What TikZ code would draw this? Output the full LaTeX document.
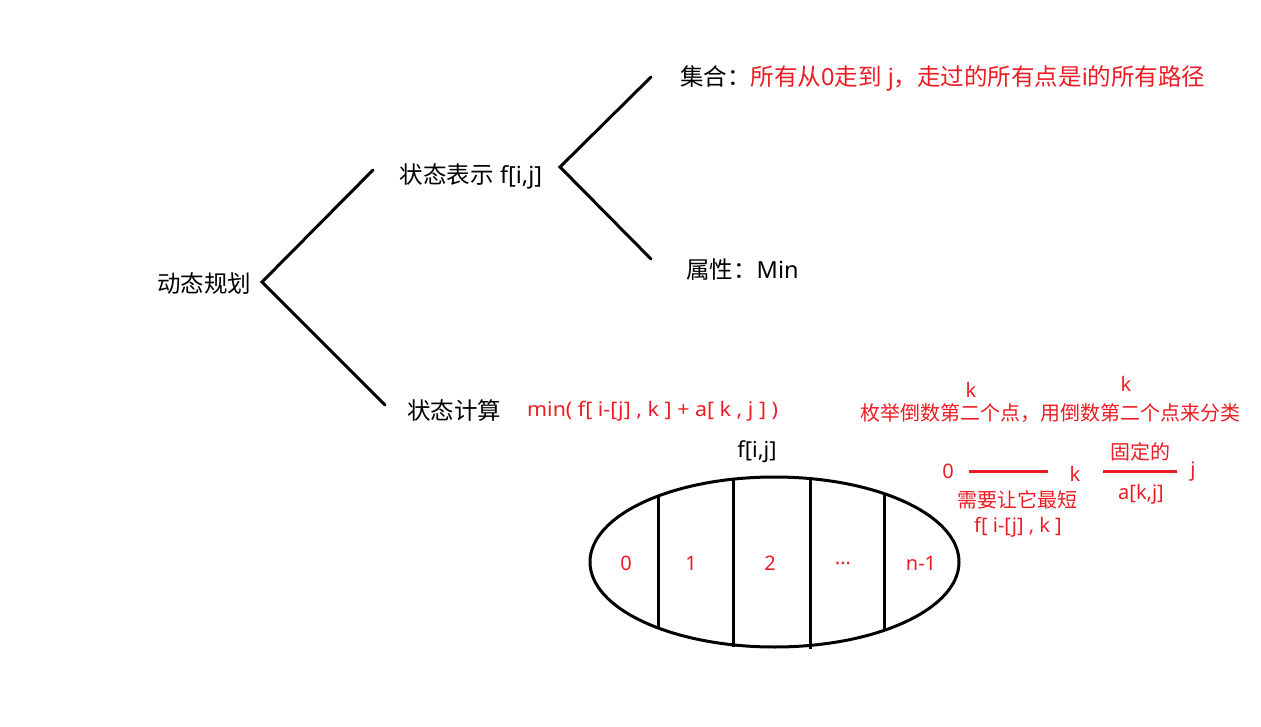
\documentclass[tikz,border=0pt]{standalone}
\usepackage{fontspec}
\setmainfont{Noto Sans}
\newfontfamily\cjk{Noto Sans CJK SC}
\definecolor{pred}{HTML}{ED1C24}
\begin{document}
\begin{tikzpicture}[x=1pt,y=-1pt,
  blk/.style={inner sep=0pt,font=\fontsize{23.5}{28}\selectfont},
  rtxt/.style={inner sep=0pt,text=pred,font=\fontsize{20}{24}\selectfont},
  branch/.style={line width=3pt,line cap=round},
  rline/.style={line width=3pt,pred},
  cell/.style={line width=3pt}]
\useasboundingbox[fill=white] (0,0) rectangle (1261,727);
% tree
\node[blk] (dp) at (204,284) {\cjk 动态规划};
\node[blk] (rep) at (471,176) {{\cjk 状态表示} f[i,j]};
\node[blk,anchor=west] (set) at (680,78) {{\cjk 集合：}\textcolor{pred}{{\cjk 所有从}0{\cjk 走到} j{\cjk ，走过的所有点是}i{\cjk 的所有路径}}};
\node[blk,anchor=west] (attr) at (686,270) {{\cjk 属性：}Min};
\node[blk] (calc) at (454,411) {\cjk 状态计算};
\node[rtxt,anchor=west,xscale=1.07,transform shape] (formula) at (527,411) {min( f[ i-[j] , k ] + a[ k , j ] )};
\coordinate (a0) at (262,282);
\coordinate (a1) at (373,170);
\coordinate (a2) at (385,405);
\coordinate (b0) at (560,167);
\coordinate (b1) at (651,77);
\coordinate (b2) at (651,259);
\draw[branch] (a1) -- (a0) -- (a2);
\draw[branch] (b1) -- (b0) -- (b2);
% ellipse
\node[blk,font=\fontsize{22}{26}\selectfont] (fij) at (757,452) {f[i,j]};
\draw[line width=3pt] (774.5,562) ellipse [x radius=184.5pt, y radius=85pt];
\draw[cell] (658,496) -- (658,628);
\draw[cell] (733,479) -- (733,647);
\draw[cell] (810,479) -- (810,649);
\draw[cell] (884,494) -- (884,630);
\node[rtxt] (c0) at (626,563) {0};
\node[rtxt] (c1) at (691,563) {1};
\node[rtxt] (c2) at (770,563) {2};
\node[rtxt] (c3) at (843,563) {...};
\node[rtxt] (c4) at (921,563) {n-1};
% right notes
\node[rtxt] (k1) at (971,390) {k};
\node[rtxt] (k2) at (1126,384) {k};
\node[rtxt] (enum) at (1050,413) {\cjk 枚举倒数第二个点，用倒数第二个点来分类};
\node[rtxt] (z) at (948,471) {0};
\node[rtxt] (k3) at (1075,474) {k};
\node[rtxt] (fix) at (1140,452) {\cjk 固定的};
\node[rtxt] (jj) at (1193,472) {j};
\node[rtxt] (short) at (1017,500) {\cjk 需要让它最短};
\node[rtxt] (fik) at (1018,527) {f[ i-[j] , k ]};
\node[rtxt] (akj) at (1141,494) {a[k,j]};
\coordinate (l1) at (969,471);
\coordinate (l2) at (1048,471);
\coordinate (l3) at (1103,471);
\coordinate (l4) at (1177,471);
\draw[rline] (l1) -- (l2);
\draw[rline] (l3) -- (l4);
\end{tikzpicture}
\end{document}
